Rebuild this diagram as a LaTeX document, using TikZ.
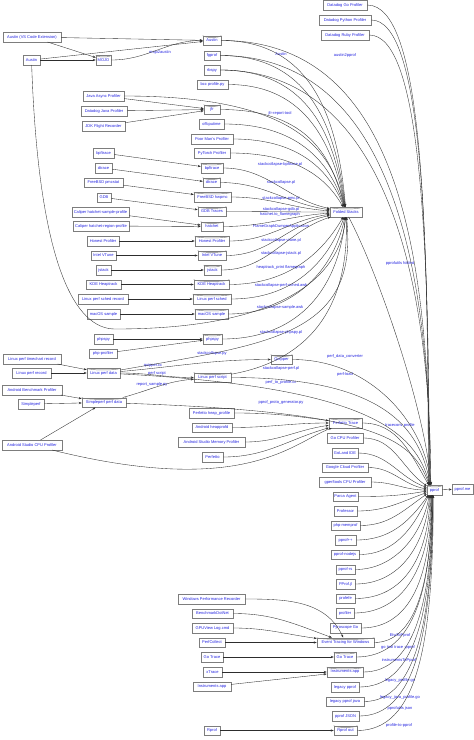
\documentclass[tikz,border=0pt]{standalone}
\usepackage{fontspec}
\setmainfont{Liberation Sans}
\usetikzlibrary{arrows.meta,calc}
\definecolor{lnk}{RGB}{35,35,225}
\definecolor{bord}{RGB}{125,125,125}
\definecolor{edg}{RGB}{45,45,45}
\begin{document}
\begin{tikzpicture}[x=1pt,y=-1pt,
  tx/.style={font=\fontsize{4}{4.8}\selectfont, text=lnk},
  box/.style={tx, draw=bord, line width=0.5pt, rectangle, inner sep=0.5pt, minimum height=9.5pt},
  topc/.style={draw=bord, line width=0.45pt, to path={.. controls +(0pt,-2.6pt) and +(0pt,-2.6pt) .. (\tikztotarget)}},
  fmt/.style={box, append after command={(\tikzlastnode.north west) edge[topc] (\tikzlastnode.north east)}},
  lab/.style={tx, inner sep=0pt},
  e/.style={draw=edg, line width=0.35pt, -{Stealth[length=3pt,width=2.2pt]}},
]
\fill[white] (0,0) rectangle (474,740);
\useasboundingbox (0,0) rectangle (474,740);

% ---------- rank 0
\node[box,minimum width=58pt] (avs) at (32,37) {Austin (VS Code Extension)};
\node[box,minimum width=17pt] (austin) at (31.5,60) {Austin};
\node[box,minimum width=58pt] (lptr) at (32,359) {Linux perf timechart record};
\node[box,minimum width=39pt] (lpr) at (31.5,373) {Linux perf record};
\node[box,minimum width=60pt] (abp) at (32,390) {Android Benchmark Profiler};
\node[box,minimum width=26pt] (simpleperf) at (31,404) {Simpleperf};
\node[box,minimum width=60pt] (ascp) at (32,445) {Android Studio CPU Profiler};

% ---------- rank 1
\node[fmt,minimum width=15pt] (mojo) at (103.5,60) {MOJO};
\node[box,minimum width=41pt] (jap) at (103.5,96) {Java Async Profiler};
\node[box,minimum width=46pt] (djp) at (104,111) {Datadog Java Profiler};
\node[box,minimum width=43pt] (jdk) at (103.5,126) {JDK Flight Recorder};
\node[box,minimum width=21pt] (bpft) at (103.5,153) {bpftrace};
\node[box,minimum width=17pt] (dtr) at (103.5,168) {dtrace};
\node[box,minimum width=39pt] (pmc) at (103.5,182.5) {FreeBSD pmcstat};
\node[box,minimum width=14pt] (gdb) at (104,197.5) {GDB};
\node[box,minimum width=57pt] (chsp) at (100.5,212) {Caliper hatchet-sample-profile};
\node[box,minimum width=56pt] (chrp) at (101,226) {Caliper hatchet-region-profile};
\node[box,minimum width=32pt] (hp) at (103,241) {Honest Profiler};
\node[box,minimum width=25pt] (ivt) at (103.5,255.5) {Intel VTune};
\node[box,minimum width=15pt] (jst) at (103.5,270) {jstack};
\node[box,minimum width=35pt] (kde) at (103.5,284.5) {KDE Heaptrack};
\node[box,minimum width=50pt] (lpsr) at (103,299) {Linux perf sched record};
\node[box,minimum width=33pt] (macs) at (103.5,314) {macOS sample};
\node[box,minimum width=19pt] (phpspy) at (103.5,339) {phpspy};
\node[box,minimum width=28pt] (phpprof) at (103,353.5) {php-profiler};
\node[fmt,minimum width=33pt] (lpd) at (103.5,373) {Linux perf data};
\node[fmt,minimum width=44pt] (spd) at (104,402.5) {Simpleperf perf data};

% ---------- rank 2
\node[fmt,minimum width=18pt] (austinF) at (212,40.5) {Austin};
\node[box,minimum width=16pt] (fgprof) at (212,55.5) {fgprof};
\node[box,minimum width=16pt] (rbspy) at (212,70) {rbspy};
\node[box,minimum width=31pt] (bcc) at (212.5,84.5) {bcc profile.py};
\node[fmt,minimum width=16pt] (jfr) at (212,109.5) {jfr};
\node[box,minimum width=25pt] (offcpu) at (211.5,124) {offcputime};
\node[box,minimum width=42pt] (pmp) at (212,139) {Poor Man's Profiler};
\node[box,minimum width=36pt] (pyt) at (212,153) {PyTorch Profiler};
\node[fmt,minimum width=22pt] (bpftF) at (212,168) {bpftrace};
\node[fmt,minimum width=17pt] (dtrF) at (211.5,182.5) {dtrace};
\node[fmt,minimum width=37pt] (hwpmc) at (212.5,197) {FreeBSD hwpmc};
\node[fmt,minimum width=28pt] (gdbt) at (212,211.5) {GDB Traces};
\node[fmt,minimum width=22pt] (hatchet) at (212,226.5) {hatchet};
\node[fmt,minimum width=34pt] (hpF) at (212,241) {Honest Profiler};
\node[fmt,minimum width=28pt] (ivtF) at (212,255.5) {Intel VTune};
\node[fmt,minimum width=17pt] (jstF) at (212.5,270) {jstack};
\node[fmt,minimum width=35pt] (kdeF) at (211.5,284.5) {KDE Heaptrack};
\node[fmt,minimum width=38pt] (lps) at (212,299) {Linux perf sched};
\node[fmt,minimum width=33pt] (macsF) at (211.5,314) {macOS sample};
\node[fmt,minimum width=19pt] (phpspyF) at (212.5,339) {phpspy};
\node[fmt,minimum width=37pt] (lpscript) at (212.5,377.5) {Linux perf script};
\node[fmt,minimum width=21pt] (quipper) at (281.5,359.5) {Quipper};
\node[box,minimum width=45pt] (phh) at (211.5,413) {Perfetto heap\_profile};
\node[box,minimum width=40pt] (ahp) at (212,427.5) {Android heapprofd};
\node[box,minimum width=67pt] (asmp) at (211.5,442) {Android Studio Memory Profiler};
\node[box,minimum width=21pt] (perfetto) at (212.5,457) {Perfetto};
\node[box,minimum width=67pt] (wpr) at (211.5,599) {Windows Performance Recorder};
\node[box,minimum width=41pt] (bdn) at (212.5,613.5) {BenchmarkDotNet};
\node[box,minimum width=41pt] (gpuv) at (212.5,628) {GPUView Log.cmd};
\node[box,minimum width=26pt] (perfc) at (212,642.5) {PerfCollect};
\node[box,minimum width=22pt] (gotr) at (212,657) {Go Trace};
\node[box,minimum width=19pt] (xtrace) at (212.5,672) {xTrace};
\node[box,minimum width=38pt] (instr) at (212,686.5) {Instruments app};
\node[box,minimum width=16pt] (rprof) at (212,730.5) {Rprof};

% ---------- rank 3
\node[box,minimum width=44pt] (ddgo) at (345,5) {Datadog Go Profiler};
\node[box,minimum width=52pt] (ddpy) at (345,20) {Datadog Python Profiler};
\node[box,minimum width=48pt] (ddrb) at (345,35) {Datadog Ruby Profiler};
\node[fmt,minimum width=32pt] (folded) at (346,212) {Folded Stacks};
\node[fmt,minimum width=33pt] (pft) at (345.5,423) {Perfetto Trace};
\node[box,minimum width=36pt] (gocpu) at (345,438) {Go CPU Profiler};
\node[box,minimum width=26pt] (goland) at (345,453) {GoLand IDE};
\node[box,minimum width=46pt] (gcp) at (345,467.5) {Google Cloud Profiler};
\node[box,minimum width=52pt] (gpt) at (345,482) {gperftools CPU Profiler};
\node[box,minimum width=25pt] (parca) at (345.5,496.5) {Parca Agent};
\node[box,minimum width=23pt] (prof) at (345.5,511) {Professor};
\node[box,minimum width=29pt] (phpmem) at (345.5,525.5) {php-memprof};
\node[box,minimum width=21pt] (pprofpp) at (345.5,540) {pprof++};
\node[box,minimum width=28pt] (pnode) at (345,554.5) {pprof-nodejs};
\node[box,minimum width=19pt] (prs) at (345.5,569.5) {pprof-rs};
\node[box,minimum width=19pt] (pjl) at (345.5,584) {PProf.jl};
\node[box,minimum width=19pt] (profefe) at (345.5,598.5) {profefe};
\node[box,minimum width=18pt] (profiler) at (345,613) {profiler};
\node[box,minimum width=31pt] (pyro) at (345.5,628) {Pyroscope Go};
\node[fmt,minimum width=57pt] (etw) at (345.5,642.5) {Event Tracing for Windows};
\node[fmt,minimum width=22pt] (gotrF) at (345,657) {Go Trace};
\node[fmt,minimum width=36pt] (instrF) at (345,672) {Instruments app};
\node[box,minimum width=28pt] (lp) at (345,687) {legacy pprof};
\node[box,minimum width=38pt] (lpj) at (345,701.5) {legacy pprof java};
\node[box,minimum width=27pt] (pjson) at (345.5,716) {pprof JSON};
\node[fmt,minimum width=23pt] (rout) at (345.5,730.5) {Rprof out};

\node[fmt,minimum width=15pt] (pprof) at (434.5,490) {pprof};
\node[box,minimum width=21pt] (pme) at (462.5,489) {pprof.me};

\coordinate (aw) at (115,329);

% ---------- edge labels
\node[lab] (l1) at (160,52) {mojo2austin};
\node[lab] (l2) at (281,54) {Austin};
\node[lab] (l3) at (345,55) {austin2pprof};
\node[lab] (l4) at (280,113) {jfr-report-tool};
\node[lab] (l5) at (280,164) {stackcollapse-bpftrace.pl};
\node[lab] (l6) at (281,182) {stackcollapse.pl};
\node[lab] (l7) at (281,198) {stackcollapse-pmc.pl};
\node[lab] (l8) at (281,209) {stackcollapse-gdb.pl};
\node[lab] (l9) at (280,214) {hatchet.to\_flamegraph};
\node[lab] (l10) at (281,226) {FlameGraphDumperApplication};
\node[lab] (l11) at (281,240) {stackcollapse-vtune.pl};
\node[lab] (l12) at (281,253) {stackcollapse-jstack.pl};
\node[lab] (l13) at (281,267) {heaptrack\_print flamegraph};
\node[lab] (l14) at (281,285) {stackcollapse-perf-sched.awk};
\node[lab] (l15) at (280,307) {stackcollapse-sample.awk};
\node[lab] (l16) at (281,332) {stackcollapse-phpspy.pl};
\node[lab] (l17) at (400,263) {pprofutils folded};
\node[lab] (l18) at (212,353) {stackcollapse.py};
\node[lab] (l19) at (345,356) {perf\_data\_converter};
\node[lab] (l20) at (153,365) {quipper.cc};
\node[lab] (l21) at (281,368) {stackcollapse-perf.pl};
\node[lab] (l22) at (157,373) {perf script};
\node[lab] (l23) at (345,374) {perf-load};
\node[lab] (l24) at (281,382) {perf\_to\_profile.cc};
\node[lab] (l25) at (152,384) {report\_sample.py};
\node[lab] (l26) at (281,402) {pprof\_proto\_generator.py};
\node[lab] (l27) at (400,425) {traceconv profile};
\node[lab] (l28) at (400,635) {EtwToPprof};
\node[lab] (l29) at (398,647) {go tool trace -pprof};
\node[lab] (l30) at (399,660) {instrumentsToPprof};
\node[lab] (l31) at (400,680) {legacy\_profile.go};
\node[lab] (l32) at (400,697) {legacy\_java\_profile.go};
\node[lab] (l33) at (400,708) {pprofutils json};
\node[lab] (l34) at (399,725) {profile-to-pprof};

% ---------- edges: top group
\draw[e] (avs) -- (mojo);
\draw[e] (avs) -- (austinF);
\draw[e] (austin) -- (mojo);
\draw[e] (austin) -- (austinF);
\draw[e] (mojo) to[out=0,in=180] (austinF);
\draw[e] (austin) to[out=-88,in=180,out distance=200pt,in distance=40pt] (aw) to[out=0,in=-95,out distance=150pt,in distance=70pt] (folded);

% into Folded Stacks from above
\draw[e] (austinF) to[out=0,in=95,out distance=90pt,in distance=90pt] (folded);
\draw[e] (fgprof) to[out=0,in=97,out distance=90pt,in distance=80pt] (folded);
\draw[e] (rbspy) to[out=0,in=99,out distance=90pt,in distance=70pt] (folded);
\draw[e] (bcc) to[out=0,in=101,out distance=80pt,in distance=60pt] (folded);
\draw[e] (jap) to[out=0,in=103,out distance=170pt,in distance=60pt] (folded);
\draw[e] (jfr) to[out=0,in=105,out distance=90pt,in distance=50pt] (folded);
\draw[e] (offcpu) to[out=0,in=108,out distance=80pt,in distance=40pt] (folded);
\draw[e] (pmp) to[out=0,in=112,out distance=70pt,in distance=35pt] (folded);
\draw[e] (pyt) to[out=0,in=120,out distance=70pt,in distance=30pt] (folded);
% into Folded Stacks from the left
\draw[e] (bpftF) to[out=0,in=168] (folded);
\draw[e] (dtrF) to[out=0,in=172] (folded);
\draw[e] (hwpmc) to[out=0,in=176] (folded);
\draw[e] (gdbt) to[out=0,in=180] (folded);
\draw[e] (hatchet) to[out=0,in=184] (folded);
\draw[e] (hpF) to[out=0,in=188] (folded);
\draw[e] (ivtF) to[out=0,in=192] (folded);
\draw[e] (jstF) to[out=0,in=198] (folded);
% into Folded Stacks from below
\draw[e] (kdeF) to[out=0,in=-120,out distance=60pt,in distance=40pt] (folded);
\draw[e] (lps) to[out=0,in=-110,out distance=60pt,in distance=50pt] (folded);
\draw[e] (macsF) to[out=0,in=-102,out distance=60pt,in distance=60pt] (folded);
\draw[e] (phpspyF) to[out=0,in=-96,out distance=70pt,in distance=80pt] (folded);
\draw[e] (lpscript) to[out=10,in=-88,out distance=70pt,in distance=100pt] (folded);
\draw[e] (lpd) to[out=10,in=-84,out distance=150pt,in distance=120pt] (folded);

% rank 0/1 -> rank 1/2
\draw[e] (jap) -- (jfr);
\draw[e] (djp) -- (jfr);
\draw[e] (jdk) -- (jfr);
\draw[e] (bpft) -- (bpftF);
\draw[e] (dtr) -- (dtrF);
\draw[e] (pmc) -- (hwpmc);
\draw[e] (gdb) -- (gdbt);
\draw[e] (chsp) -- (hatchet);
\draw[e] (chrp) -- (hatchet);
\draw[e] (hp) -- (hpF);
\draw[e] (ivt) -- (ivtF);
\draw[e] (jst) -- (jstF);
\draw[e] (kde) -- (kdeF);
\draw[e] (lpsr) -- (lps);
\draw[e] (macs) -- (macsF);
\draw[e] (phpspy) -- (phpspyF);
\draw[e] (phpprof) -- (phpspyF);
\draw[e] (lptr) -- (lpd);
\draw[e] (lpr) -- (lpd);
\draw[e] (abp) -- (spd);
\draw[e] (simpleperf) -- (spd);
\draw[e] (ascp) -- (spd);
\draw[e] (lpd) to[out=5,in=180] (quipper);
\draw[e] (lpd) to[out=0,in=180] (lpscript);
\draw[e] (spd) to[out=15,in=185] (lpscript);

% Perfetto
\draw[e] (phh) to[out=0,in=172] (pft);
\draw[e] (ahp) to[out=0,in=180] (pft);
\draw[e] (asmp) to[out=0,in=188] (pft);
\draw[e] (perfetto) to[out=0,in=196] (pft);
\draw[e] (ascp) to[out=-14,in=200,out distance=200pt,in distance=40pt] (pft);

% ETW etc.
\draw[e] (wpr) to[out=0,in=115] (etw);
\draw[e] (bdn) to[out=0,in=160] (etw);
\draw[e] (gpuv) to[out=0,in=172] (etw);
\draw[e] (perfc) to[out=0,in=180] (etw);
\draw[e] (gotr) -- (gotrF);
\draw[e] (xtrace) -- (instrF);
\draw[e] (instr) -- (instrF);
\draw[e] (rprof) -- (rout);

% ---------- into pprof from above
\draw[e] (ddgo) to[out=0,in=90,out distance=55pt,in distance=270pt] ($(pprof.north west)+(1.5,0)$);
\draw[e] (ddpy) to[out=0,in=90,out distance=50pt,in distance=265pt] ($(pprof.north west)+(2,0)$);
\draw[e] (ddrb) to[out=0,in=90,out distance=50pt,in distance=260pt] ($(pprof.north west)+(2.5,0)$);
\draw[e] (austinF) to[out=0,in=90,out distance=170pt,in distance=250pt] ($(pprof.north west)+(3,0)$);
\draw[e] (fgprof) to[out=0,in=90,out distance=160pt,in distance=245pt] ($(pprof.north west)+(3.5,0)$);
\draw[e] (rbspy) to[out=0,in=90,out distance=150pt,in distance=240pt] ($(pprof.north west)+(4,0)$);
\draw[e] (folded) to[out=-62,in=95,out distance=60pt,in distance=80pt] ($(pprof.north west)+(4.5,0)$);
\draw[e] (quipper) to[out=0,in=95,out distance=80pt,in distance=60pt] ($(pprof.north west)+(4,0)$);
\draw[e] (lpscript) to[out=0,in=100,out distance=150pt,in distance=60pt] ($(pprof.north west)+(3.5,0)$);
\draw[e] (lpd) to[out=-3,in=105,out distance=250pt,in distance=55pt] ($(pprof.north west)+(3,0)$);
\draw[e] (spd) to[out=-2,in=110,out distance=250pt,in distance=50pt] ($(pprof.north west)+(2.5,0)$);
\draw[e] (pft) to[out=0,in=120] ($(pprof.north west)+(2,0)$);
% from the left
\draw[e] (gocpu) to[out=0,in=145] ($(pprof.north west)+(0,1)$);
\draw[e] (goland) to[out=0,in=160] ($(pprof.west)+(0,-2.5)$);
\draw[e] (gcp) to[out=0,in=170] ($(pprof.west)+(0,-1)$);
\draw[e] (gpt) to[out=0,in=180] (pprof.west);
\draw[e] (parca) to[out=0,in=190] ($(pprof.west)+(0,1)$);
\draw[e] (prof) to[out=0,in=200] ($(pprof.west)+(0,2.5)$);
\draw[e] (phpmem) to[out=0,in=215] ($(pprof.south west)+(0,-1)$);
\draw[e] (pprofpp) to[out=0,in=-125] ($(pprof.south west)+(1.5,0)$);
\draw[e] (pnode) to[out=0,in=-115] ($(pprof.south west)+(2,0)$);
% from below
\draw[e] (prs) to[out=0,in=-100,out distance=40pt,in distance=40pt] ($(pprof.south west)+(2.5,0)$);
\draw[e] (pjl) to[out=0,in=-95,out distance=45pt,in distance=50pt] ($(pprof.south west)+(3,0)$);
\draw[e] (profefe) to[out=0,in=-92,out distance=50pt,in distance=60pt] ($(pprof.south west)+(3.5,0)$);
\draw[e] (profiler) to[out=0,in=-90,out distance=50pt,in distance=70pt] ($(pprof.south west)+(4,0)$);
\draw[e] (pyro) to[out=0,in=-90,out distance=50pt,in distance=80pt] ($(pprof.south west)+(4.5,0)$);
\draw[e] (etw) to[out=0,in=-90,out distance=40pt,in distance=90pt] ($(pprof.south west)+(5,0)$);
\draw[e] (gotrF) to[out=0,in=-90,out distance=55pt,in distance=100pt] ($(pprof.south west)+(5,0)$);
\draw[e] (instrF) to[out=0,in=-90,out distance=50pt,in distance=110pt] ($(pprof.south west)+(5.5,0)$);
\draw[e] (lp) to[out=0,in=-90,out distance=55pt,in distance=120pt] ($(pprof.south west)+(5.5,0)$);
\draw[e] (lpj) to[out=0,in=-90,out distance=50pt,in distance=130pt] ($(pprof.south west)+(6,0)$);
\draw[e] (pjson) to[out=0,in=-90,out distance=55pt,in distance=140pt] ($(pprof.south west)+(6,0)$);
\draw[e] (rout) to[out=0,in=-90,out distance=60pt,in distance=150pt] ($(pprof.south west)+(6.5,0)$);

\draw[e] (pprof) -- (pme);
\end{tikzpicture}
\end{document}
